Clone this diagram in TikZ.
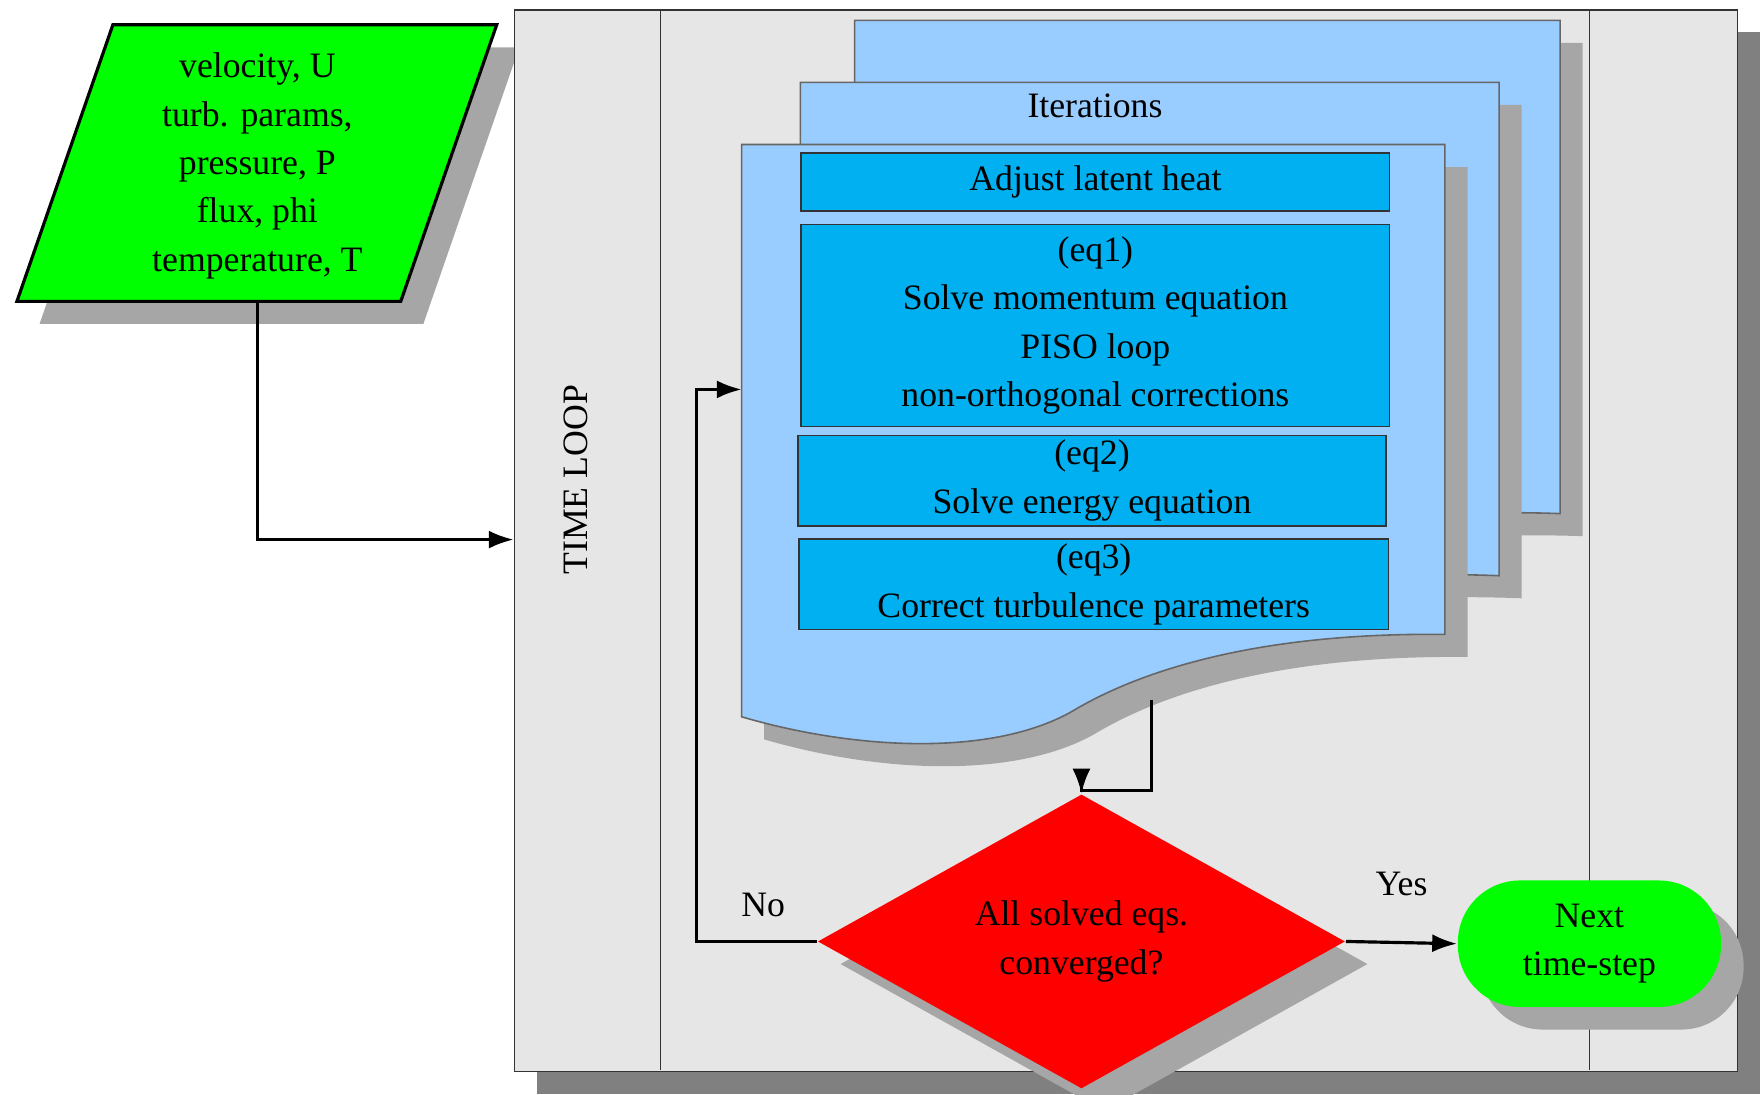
\documentclass[tikz,border=0pt]{standalone}
\usepackage{fontspec}
\setmainfont{Liberation Serif}
\usetikzlibrary{shapes.geometric,shadows,positioning,arrows.meta}
\definecolor{inGreen}{HTML}{00FF00}
\definecolor{pageBlue}{HTML}{99CCFF}
\definecolor{stepBlue}{HTML}{00B0F0}
\definecolor{loopGray}{HTML}{E6E6E6}
\tikzset{
	shade/.style={drop shadow={shadow xshift=0.2cm, shadow yshift=-0.2cm, fill=black!35, opacity=1}},
	darkshade/.style={drop shadow={shadow xshift=0.2cm, shadow yshift=-0.2cm, fill=black!50, opacity=1}},
	solver/.style={rectangle, draw=black!80, fill=stepBlue, align=center, inner sep=0pt},
	page/.style={draw=black!60, fill=pageBlue, shade},
	connect/.style={-{Latex[length=2.2mm,width=1.6mm]}, thick},
	txt/.style={font=\fontsize{9}{12.2}\selectfont, align=center}
}
\begin{document}
\begin{tikzpicture}[x=0.01cm, y=-0.01cm, txt]
\useasboundingbox (0,0) rectangle (1560,970);
% input data
\draw[fill=inGreen, thick, shade] (100,22) -- (440,22) -- (355,267) -- (15,267) -- cycle;
\node[txt] (input) at (228,147) {velocity, U\\turb. params,\\pressure, P\\flux, phi\\temperature, T};
\coordinate (inputB) at (228,267);
% time loop frame
\node[rectangle, draw=black!80, fill=loopGray, darkshade, minimum width=10.83cm, minimum height=9.4cm, anchor=north west] (loop) at (455,8) {};
\draw[black!80] (585,8) -- (585,948);
\draw[black!80] (1408,8) -- (1408,948);
\node[rotate=90, txt] (tl) at (510,425) {TIME LOOP};
% stacked iteration pages
\draw[page] (757,18) -- (1382,18) -- (1382,455) .. controls (1250,450) and (1120,470) .. (1030,470) -- (757,470) -- cycle;
\draw[page] (709,73) -- (1328,73) -- (1328,510) .. controls (1200,505) and (1080,520) .. (990,530) -- (709,530) -- cycle;
\draw[page] (657,128) -- (1280,128) -- (1280,562) .. controls (1100,560) and (1000,600) .. (950,630) .. controls (880,670) and (760,665) .. (657,635) -- cycle;
\node[txt] (iter) at (970,94) {Iterations};
\coordinate (pageL) at (657,345);
\coordinate (pageB) at (1020,620);
% solver steps
\node[solver, minimum width=5.21cm, minimum height=0.51cm, anchor=north west] (heat) at (709,135) {Adjust latent heat};
\node[solver, minimum width=5.21cm, minimum height=1.79cm, anchor=north west] (eq1) at (709,198) {(eq1)\\Solve momentum equation\\PISO loop\\non-orthogonal corrections};
\node[solver, minimum width=5.21cm, minimum height=0.8cm, anchor=north west] (eq2) at (706,385) {(eq2)\\Solve energy equation};
\node[solver, minimum width=5.22cm, minimum height=0.8cm, anchor=north west] (eq3) at (707,477) {(eq3)\\Correct turbulence parameters};
% convergence test
\node[diamond, fill=red, shade, inner sep=0pt, minimum width=4.67cm, minimum height=1.98cm] (conv) at (958,834) {All solved eqs.\\converged?};
\node[rectangle, rounded corners=0.55cm, fill=inGreen, shade, minimum width=2.33cm, minimum height=1.12cm] (next) at (1408,836) {Next\\time-step};
% connectors
\draw[connect] (inputB) |- (loop.west |- 0,478);
\draw[connect] (conv.west) -| (617,345) -- (pageL);
\draw[connect] (pageB) -- (1020,700) -| (conv.north);
\draw[connect] (conv.east) -- node[above, yshift=8pt] {Yes} (next.west);
\node (no) at (676,802) {No};
\end{tikzpicture}
\end{document}
